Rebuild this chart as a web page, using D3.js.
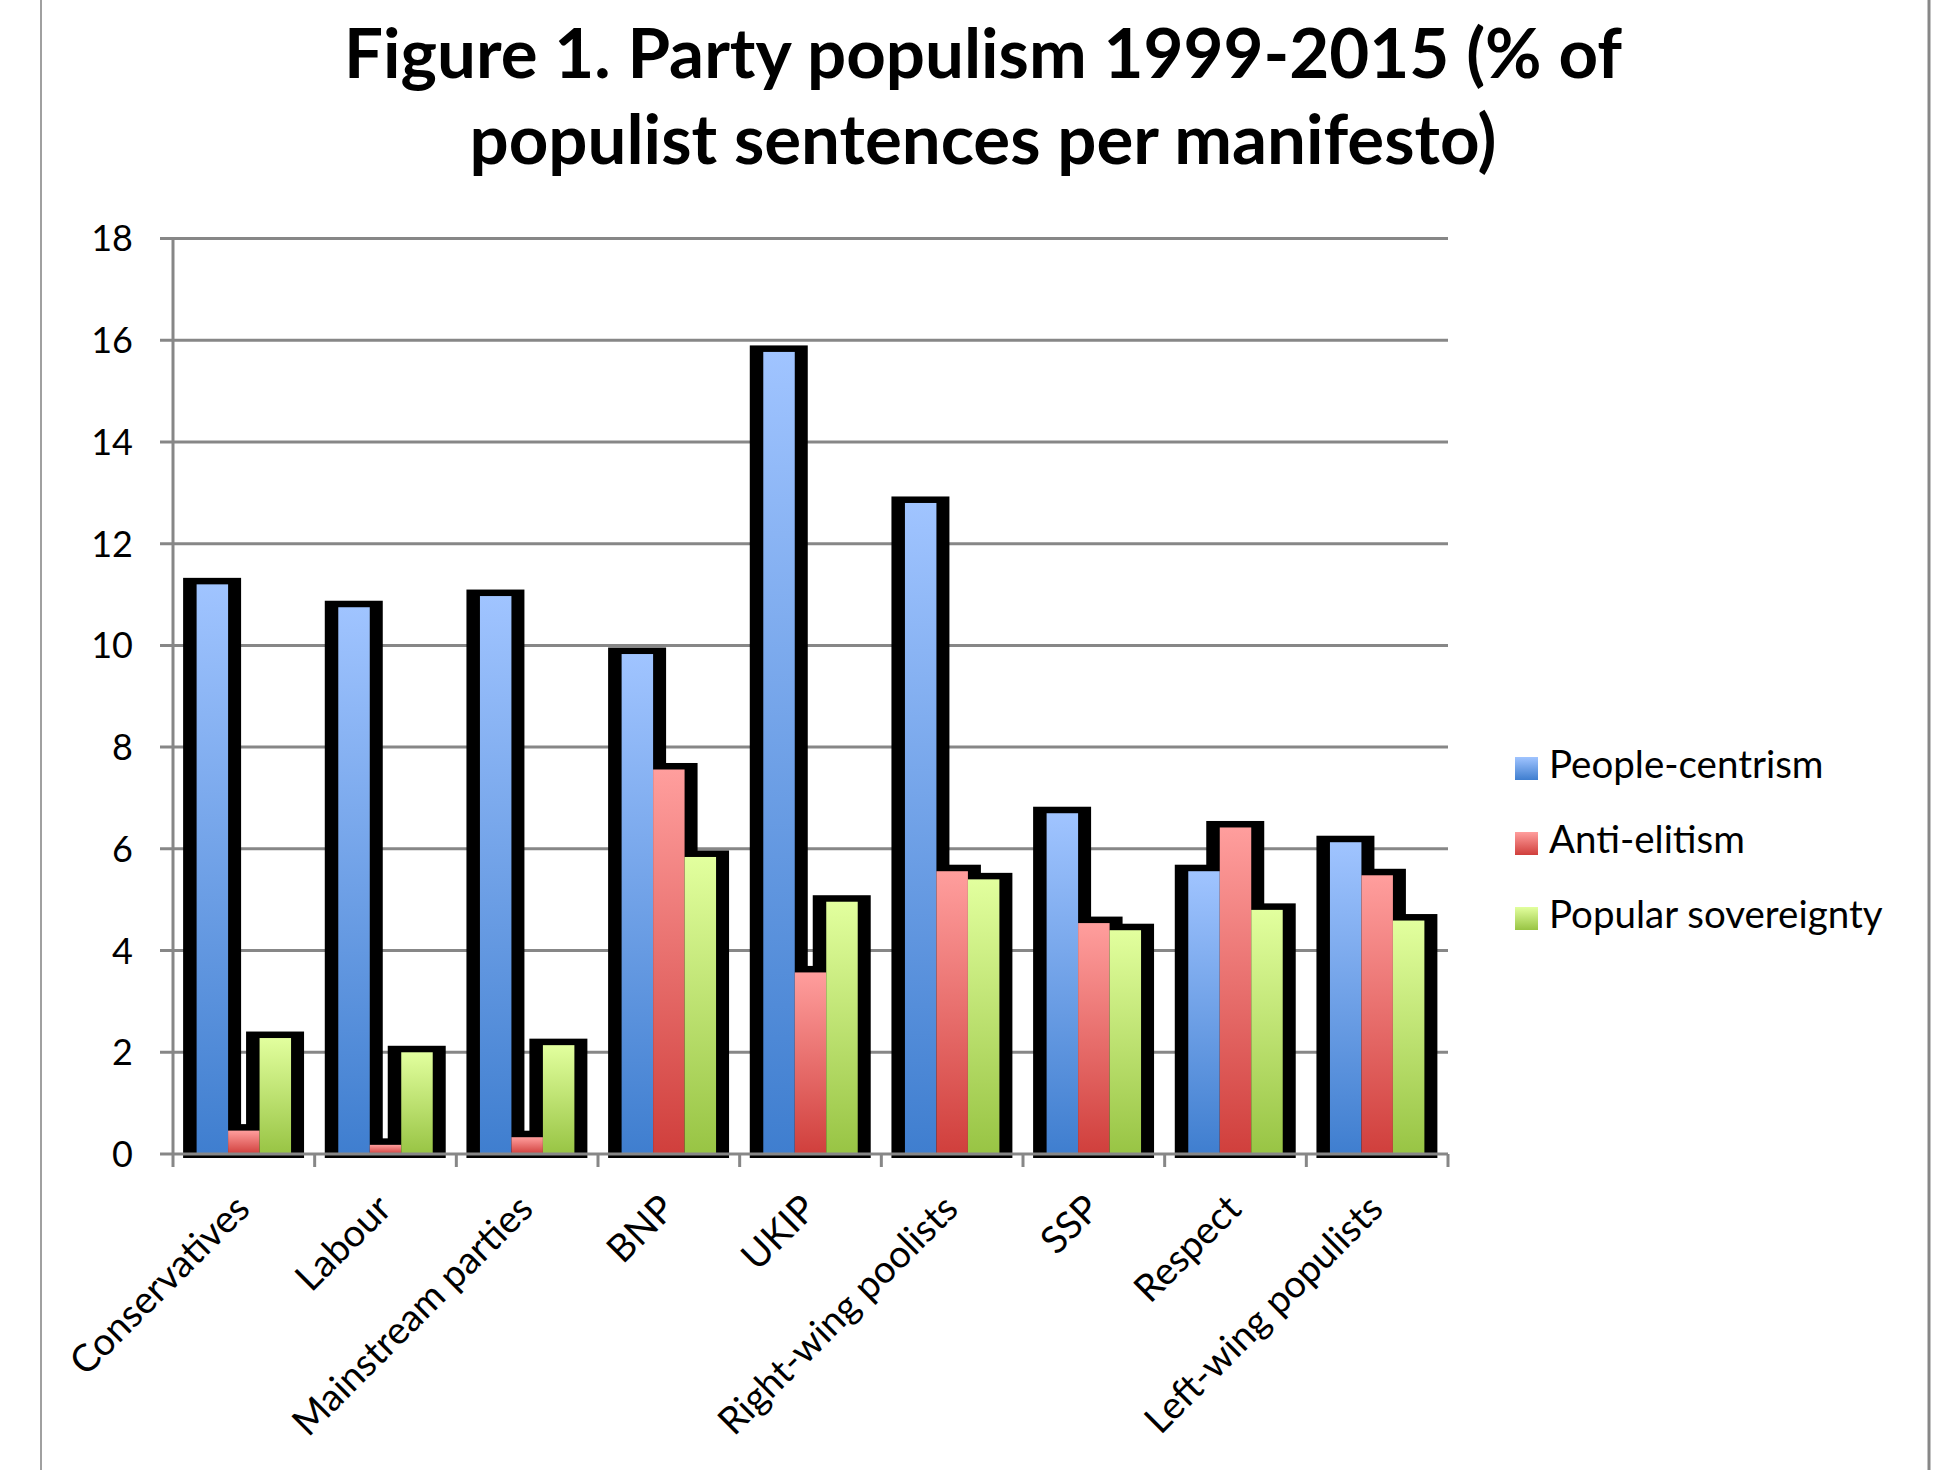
<!DOCTYPE html>
<html>
<head>
<meta charset="utf-8">
<script src="https://cdn.jsdelivr.net/npm/d3@7"></script>
<style>
  body { margin: 0; background: #fff; }
  svg { display: block; }
  text { font-family: Lato, "Open Sans", sans-serif; fill: #000; }
</style>
</head>
<body>
<svg id="chart" width="1939" height="1470"></svg>
<script>
// chart data
const categories = ["Conservatives", "Labour", "Mainstream parties", "BNP", "UKIP",
  "Right-wing poolists", "SSP", "Respect", "Left-wing populists"];
const seriesNames = ["People-centrism", "Anti-elitism", "Popular sovereignty"];
const peopleCentrism = [11.2, 10.75, 10.97, 9.83, 15.77, 12.8, 6.7, 5.56, 6.13];
const antiElitism = [0.46, 0.18, 0.33, 7.56, 3.57, 5.56, 4.54, 6.42, 5.48];
const popularSovereignty = [2.28, 2.0, 2.14, 5.84, 4.96, 5.4, 4.4, 4.8, 4.59];
const yTicks = [0, 2, 4, 6, 8, 10, 12, 14, 16, 18];
const titleLines = ["Figure 1. Party populism 1999-2015 (% of", "populist sentences per manifesto)"];

const seriesValues = [peopleCentrism, antiElitism, popularSovereignty];
const gradStops = [
  ["#a0c4ff", "#3f7ecf"],
  ["#ff9e9d", "#d03f3c"],
  ["#e2ff9e", "#98c444"]
];

const svg = d3.select("#chart");
const gridColor = "#878787";

// frame edges of the original chart area
svg.append("line").attr("x1", 41).attr("x2", 41).attr("y1", 0).attr("y2", 1470)
  .attr("stroke", "#a0a0a0").attr("stroke-width", 2);
svg.append("line").attr("x1", 1929).attr("x2", 1929).attr("y1", 0).attr("y2", 1470)
  .attr("stroke", gridColor).attr("stroke-width", 3);

// title
svg.append("g").selectAll("text").data(titleLines).enter().append("text")
  .attr("x", 983).attr("y", (d, i) => 78 + i * 86)
  .attr("text-anchor", "middle")
  .style("font-size", "69px").style("font-weight", "bold")
  .text(d => d);

const x0 = d3.scaleBand().domain(categories).range([173, 1448]);
const x1 = d3.scaleBand().domain(seriesNames).range([0, x0.bandwidth()]).paddingOuter(0.75);
const y = d3.scaleLinear().domain([0, 18]).range([1154, 238.5]);

// gradients
const defs = svg.append("defs");
seriesNames.forEach((s, i) => {
  const g = defs.append("linearGradient").attr("id", "grad" + i)
    .attr("x1", 0).attr("y1", 0).attr("x2", 0).attr("y2", 1);
  g.append("stop").attr("offset", "0%").attr("stop-color", gradStops[i][0]);
  g.append("stop").attr("offset", "100%").attr("stop-color", gradStops[i][1]);
});

// gridlines
svg.append("g").selectAll("line").data(yTicks.slice(1)).enter().append("line")
  .attr("x1", 160).attr("x2", 1448)
  .attr("y1", d => y(d)).attr("y2", d => y(d))
  .attr("stroke", gridColor).attr("stroke-width", 3);

// y labels
svg.append("g").selectAll("text").data(yTicks).enter().append("text")
  .attr("x", 133).attr("y", d => y(d))
  .attr("dy", "0.36em")
  .attr("text-anchor", "end")
  .style("font-size", "36px")
  .text(d => d);

// flat list of bars
const bars = [];
categories.forEach((c, ci) => {
  seriesNames.forEach((s, si) => {
    bars.push({ cat: c, s: s, si: si, v: seriesValues[si][ci] });
  });
});

// black silhouette behind bars
svg.append("g").selectAll("rect").data(bars).enter().append("rect")
  .attr("x", d => x0(d.cat) + x1(d.s) - 13.5)
  .attr("width", x1.bandwidth() + 26.5)
  .attr("y", d => y(d.v) - 6.5)
  .attr("height", d => y(0) - y(d.v) + 10.5)
  .attr("fill", "#000");

// coloured bars
svg.append("g").selectAll("rect").data(bars).enter().append("rect")
  .attr("x", d => x0(d.cat) + x1(d.s))
  .attr("width", x1.bandwidth())
  .attr("y", d => y(d.v))
  .attr("height", d => y(0) - y(d.v))
  .attr("fill", d => "url(#grad" + d.si + ")");

// axes
svg.append("line").attr("x1", 160).attr("x2", 1448).attr("y1", y(0)).attr("y2", y(0))
  .attr("stroke", gridColor).attr("stroke-width", 3);
svg.append("line").attr("x1", 173).attr("x2", 173).attr("y1", y(18)).attr("y2", y(0) + 13)
  .attr("stroke", gridColor).attr("stroke-width", 3);
svg.append("g").selectAll("line").data(categories).enter().append("line")
  .attr("x1", d => x0(d) + x0.bandwidth()).attr("x2", d => x0(d) + x0.bandwidth())
  .attr("y1", y(0)).attr("y2", y(0) + 13)
  .attr("stroke", gridColor).attr("stroke-width", 3);

// x labels
svg.append("g").selectAll("text").data(categories).enter().append("text")
  .attr("transform", d => "translate(" + (x0(d) + x0.bandwidth() / 2 + 8) + "," + (y(0) + 57) + ") rotate(-45)")
  .attr("text-anchor", "end")
  .style("font-size", "38px")
  .text(d => d);

// legend
const legend = svg.append("g").selectAll("g").data(seriesNames).enter().append("g")
  .attr("transform", (d, i) => "translate(1515," + (757 + i * 75) + ")");
legend.append("rect").attr("width", 23).attr("height", 23)
  .attr("fill", (d, i) => "url(#grad" + i + ")");
legend.append("text").attr("x", 34).attr("y", 21)
  .style("font-size", "38.5px")
  .text(d => d);
</script>
</body>
</html>
